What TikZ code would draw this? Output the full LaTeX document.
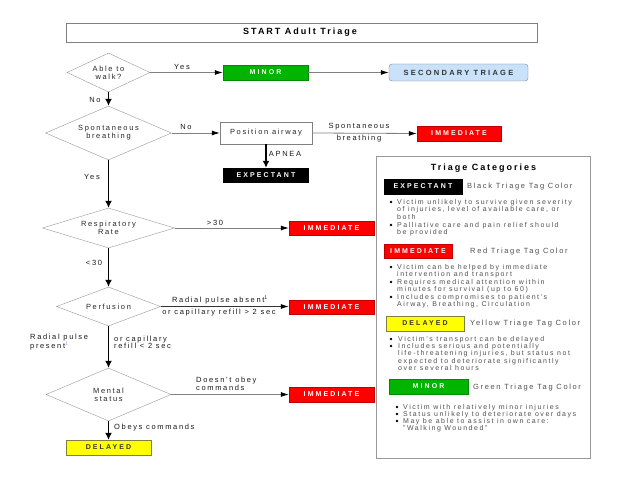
\documentclass[tikz,border=0pt]{standalone}
\usepackage{fontspec}
\setmainfont[LetterSpace=22]{Liberation Sans}
\newfontfamily\tagfont[LetterSpace=30]{Liberation Sans}
\usetikzlibrary{shapes.geometric,arrows.meta}
\definecolor{tgreen}{HTML}{00B400}
\definecolor{tgreenb}{HTML}{008A00}
\definecolor{tred}{HTML}{FF0000}
\definecolor{tredb}{HTML}{C00000}
\definecolor{tyellow}{HTML}{FFFF00}
\definecolor{tyellowb}{HTML}{7F7F40}
\definecolor{tblue}{HTML}{C9E1F9}
\definecolor{legtext}{HTML}{505050}
\definecolor{linegray}{HTML}{808080}
\begin{document}
\begin{tikzpicture}[x=1pt,y=-1pt,
  font=\fontsize{7.5}{8}\selectfont,
  dia/.style={diamond, draw=linegray!80, fill=white, aspect=2.5, inner sep=0pt, align=center, text=black!85},
  plainbox/.style={rectangle, draw=linegray, fill=white, inner sep=0pt},
  tag/.style={rectangle, inner sep=0pt, font=\tagfont\bfseries\fontsize{7}{8}\selectfont, text=white, minimum width=85pt, minimum height=15pt},
  minortag/.style={tag, fill=tgreen, draw=tgreenb},
  immtag/.style={tag, fill=tred, draw=tredb},
  exptag/.style={tag, fill=black, draw=black},
  deltag/.style={tag, fill=tyellow, draw=tyellowb, text=black!80},
  hline/.style={draw=linegray, line width=0.8pt, -{Latex[length=8pt,width=5pt,color=black]}},
  vline/.style={draw=black, line width=1.4pt, -{Latex[length=7pt,width=7pt]}},
  lab/.style={inner sep=0pt, text=black!90, align=left, font=\fontsize{7.5}{7.5}\selectfont},
  legbody/.style={inner sep=0pt, anchor=base west, align=left, text=legtext, font=\fontsize{7}{7.5}\selectfont},
  legdesc/.style={inner sep=0pt, anchor=west, text=legtext, font=\fontsize{7.5}{9}\selectfont},
  bul/.style={circle, fill=black, inner sep=0pt, minimum size=2.6pt}
]
\path[use as bounding box, fill=white] (0,0) rectangle (638,478);

% title
\node[plainbox, draw=linegray, minimum width=471pt, minimum height=19pt, anchor=north west] (title) at (66,23) {};
\node[inner sep=0pt, font=\bfseries\fontsize{9}{10}\selectfont] (titletext) at (300,32.5) {START Adult Triage};

% flowchart nodes
\node[dia, minimum width=83pt, minimum height=39pt] (d1) at (108.5,72.5) {Able to\\walk?};
\node[minortag] (minor) at (265.5,72.5) {MINOR};
\node[rectangle, rounded corners=3pt, draw=linegray, fill=tblue, minimum width=139pt, minimum height=17pt,
  inner sep=0pt, font=\tagfont\bfseries\fontsize{7.5}{8}\selectfont, text=black!80] (sec) at (458.5,72.5) {SECONDARY TRIAGE};

\node[dia, minimum width=126pt, minimum height=54pt] (d2) at (108.5,133) {Spontaneous\\breathing};
\node[plainbox, minimum width=92pt, minimum height=22pt, text=black!85] (pos) at (266,133) {Position airway};
\node[exptag, minimum height=14pt] (exp) at (266,175) {EXPECTANT};
\node[immtag, minimum width=84pt] (imm1) at (459,133.5) {IMMEDIATE};

\node[dia, minimum width=132pt, minimum height=40pt] (d3) at (108.5,228) {Respiratory\\Rate};
\node[immtag, minimum height=14pt] (imm2) at (331.5,228) {IMMEDIATE};

\node[dia, minimum width=104pt, minimum height=39pt] (d4) at (108.5,306.5) {Perfusion};
\node[immtag, minimum height=14pt] (imm3) at (331.5,307) {IMMEDIATE};

\node[dia, minimum width=125pt, minimum height=53pt] (d5) at (108.5,394.5) {Mental\\status};
\node[immtag] (imm4) at (331.5,394.5) {IMMEDIATE};
\node[deltag] (del) at (108.5,447.5) {DELAYED};

% connectors
\draw[hline] (d1.east) -- (minor.west);
\draw[hline] (minor.east) -- (sec.west);
\draw[vline] (d1.south) -- (d2.north);
\draw[hline] (d2.east) -- (pos.west);
\draw[hline] (pos.east) -- (imm1.west);
\draw[vline] (pos.south) -- (exp.north);
\draw[vline] (d2.south) -- (d3.north);
\draw[hline] (d3.east) -- (imm2.west);
\draw[vline] (d3.south) -- (d4.north);
\draw[hline, draw=black!80] (d4.east) -- (d4.east -| imm3.west);
\draw[vline] (d4.south) -- (d5.north);
\draw[hline] (d5.east) -- (imm4.west);
\draw[vline] (d5.south) -- (del.north);

% connector labels
\node[lab] (l1) at (182,67) {Yes};
\node[lab] (l2) at (95,100) {No};
\node[lab] (l3) at (186,127) {No};
\node[lab] (l4) at (285,154) {APNEA};
\node[lab] (l5) at (359,127) {Spontaneous};
\node[lab] (l6) at (359,139) {breathing};
\node[lab] (l7) at (92,177) {Yes};
\node[lab] (l8) at (215,223) {>30};
\node[lab] (l9) at (94,263) {<30};
\node[lab] (l10) at (220,300) {Radial pulse absent\textsuperscript{\color{blue}1}};
\node[lab] (l11) at (219,313) {or capillary refill > 2 sec};
\node[lab, anchor=base west] (l12) at (30,349) {Radial pulse\\present\textsuperscript{\color{blue!40}1}};
\node[lab, anchor=base west] (l13) at (114,349) {or capillary\\refill < 2 sec};
\node[lab, anchor=base west] (l14) at (196,390.5) {Doesn't obey\\commands};
\node[lab, anchor=base west] (l15) at (114,429.5) {Obeys commands};

% legend
\node[plainbox, draw=linegray!80, minimum width=214pt, minimum height=302pt, anchor=north west] (legend) at (376,156) {};
\node[inner sep=0pt, font=\bfseries\fontsize{9}{10}\selectfont] (legtitle) at (483.5,168) {Triage Categories};

\node[exptag, minimum width=78pt] (lexp) at (423,186.5) {EXPECTANT};
\node[legdesc] (dexp) at (467,187) {Black Triage Tag Color};
\node[bul] (bu1) at (391,202) {};
\node[legbody] (b1) at (397,219.5) {Victim unlikely to survive given severity\\of injuries, level of available care, or\\both};
\node[bul] (bu2) at (391,225) {};
\node[legbody] (b2) at (397,235) {Palliative care and pain relief should\\be provided};

\node[immtag, minimum width=68pt, minimum height=14pt] (limm) at (418,251) {IMMEDIATE};
\node[legdesc] (dimm) at (470,252) {Red Triage Tag Color};
\node[bul] (bu3) at (391,267) {};
\node[legbody] (b3) at (397,277) {Victim can be helped by immediate\\intervention and transport};
\node[bul] (bu4) at (391,282) {};
\node[legbody] (b4) at (397,292) {Requires medical attention within\\minutes for survival (up to 60)};
\node[bul] (bu5) at (391,297) {};
\node[legbody] (b5) at (397,307) {Includes compromises to patient's\\Airway, Breathing, Circulation};

\node[deltag, minimum width=78pt] (ldel) at (425,323.5) {DELAYED};
\node[legdesc] (ddel) at (470,324) {Yellow Triage Tag Color};
\node[bul] (bu6) at (391,339) {};
\node[legbody] (b6) at (398,341.5) {Victim's transport can be delayed};
\node[bul] (bu7) at (391,346) {};
\node[legbody] (b7) at (398,371) {Includes serious and potentially\\life-threatening injuries, but status not\\expected to deteriorate significantly\\over several hours};

\node[minortag, minimum width=79pt] (lmin) at (428.5,386.5) {MINOR};
\node[legdesc] (dmin) at (473,388) {Green Triage Tag Color};
\node[bul] (bu8) at (397,407) {};
\node[legbody] (b8) at (403,409.5) {Victim with relatively minor injuries};
\node[bul] (bu9) at (397,414) {};
\node[legbody] (b9) at (403,416.5) {Status unlikely to deteriorate over days};
\node[bul] (bu10) at (397,421) {};
\node[legbody] (b10) at (403,431) {May be able to assist in own care:\\"Walking Wounded"};
\end{tikzpicture}
\end{document}
